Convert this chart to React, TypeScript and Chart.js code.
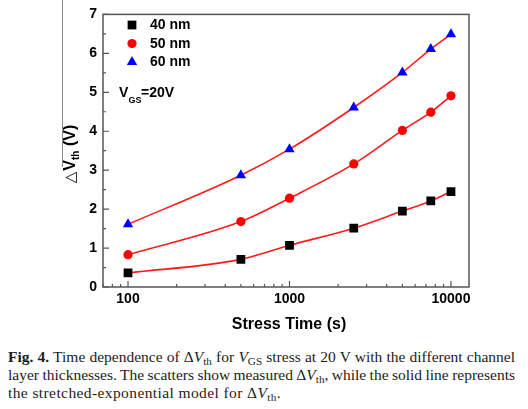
import React, { useEffect, useRef } from "react";
import { Chart, registerables } from "chart.js";

Chart.register(...registerables);

// Stress times (s) and measured threshold-voltage shifts (V) per channel thickness
const stressTimes = [100, 500, 1000, 2500, 5000, 7500, 10000];
const dv40 = [0.36, 0.71, 1.07, 1.51, 1.95, 2.21, 2.45];
const dv50 = [0.83, 1.68, 2.28, 3.16, 4.02, 4.49, 4.91];
const dv60 = [1.61, 2.87, 3.54, 4.61, 5.51, 6.11, 6.49];
const seriesLabels = ["40 nm", "50 nm", "60 nm"];
const xTickValues = [100, 1000, 10000];
const yTickValues = [0, 1, 2, 3, 4, 5, 6, 7];

const SANS = '"Liberation Sans", Arial, sans-serif';

const toPoints = (ys: number[]) => stressTimes.map((t, i) => ({ x: t, y: ys[i] }));

function drawMarker(ctx: CanvasRenderingContext2D, style: string, x: number, y: number, r: number, color: string) {
  ctx.fillStyle = color;
  ctx.beginPath();
  if (style === "rect") {
    const s = Math.SQRT1_2 * r;
    ctx.rect(x - s, y - s, 2 * s, 2 * s);
  } else if (style === "circle") {
    ctx.arc(x, y, r, 0, Math.PI * 2);
  } else {
    ctx.moveTo(x, y - r);
    ctx.lineTo(x + r * Math.sin(Math.PI / 3 * 2), y + r / 2);
    ctx.lineTo(x - r * Math.sin(Math.PI / 3 * 2), y + r / 2);
    ctx.closePath();
  }
  ctx.fill();
}

const decorPlugin = {
  id: "decor",
  beforeDatasetsDraw(chart: any) {
    const { ctx, chartArea: a, scales } = chart;
    const xs = scales.x;
    const ys = scales.y;
    ctx.save();
    ctx.strokeStyle = "#555";
    ctx.lineWidth = 1.5;
    ctx.strokeRect(a.left, a.top, a.right - a.left, a.bottom - a.top);
    ctx.lineWidth = 1.2;
    ctx.beginPath();
    // inward ticks on the value axis (major every 1 V, minor every 0.5 V)
    for (let v = 0; v <= 7; v += 0.5) {
      const py = ys.getPixelForValue(v);
      const len = v % 1 === 0 ? 6 : 3;
      ctx.moveTo(a.left, py);
      ctx.lineTo(a.left + len, py);
    }
    // inward ticks on the log time axis
    for (const decade of [10, 100, 1000, 10000]) {
      for (let m = 1; m <= 9; m++) {
        const v = m * decade;
        if (v < xs.min || v > 10000) continue;
        const px = xs.getPixelForValue(v);
        const len = m === 1 ? 6 : 3;
        ctx.moveTo(px, a.bottom);
        ctx.lineTo(px, a.bottom - len);
      }
    }
    ctx.stroke();
    ctx.restore();
  },
  afterDraw(chart: any) {
    const { ctx } = chart;
    ctx.save();

    // thin rule on the left edge of the figure
    ctx.strokeStyle = "#8a8a8a";
    ctx.lineWidth = 1;
    ctx.beginPath();
    ctx.moveTo(62.5, 0);
    ctx.lineTo(62.5, 167);
    ctx.stroke();

    // legend inside the plot
    const metas = chart.data.datasets;
    const rowY = [25, 43.5, 62];
    ctx.textBaseline = "middle";
    ctx.textAlign = "left";
    ctx.font = `bold 14px ${SANS}`;
    metas.forEach((ds: any, i: number) => {
      drawMarker(ctx, ds.pointStyle, 132, rowY[i], ds.pointRadius, ds.pointBackgroundColor);
      ctx.fillStyle = "#000";
      ctx.fillText(ds.label, 150, rowY[i] + 0.5);
    });

    // bias annotation
    ctx.textBaseline = "alphabetic";
    ctx.font = `bold 14px ${SANS}`;
    ctx.fillText("V", 119, 97);
    ctx.font = `bold 9px ${SANS}`;
    ctx.fillText("GS", 128.5, 103);
    ctx.font = `bold 14px ${SANS}`;
    ctx.fillText("=20V", 141, 97);

    // x-axis title
    ctx.textAlign = "center";
    ctx.textBaseline = "middle";
    ctx.font = `bold 16px ${SANS}`;
    ctx.fillText("Stress Time (s)", 289, 325);

    // y-axis title, rotated, with subscript
    const parts = [
      { t: "\u25B3", f: `15px "DejaVu Sans", sans-serif`, dy: 0 },
      { t: "V", f: `bold 16px ${SANS}`, dy: 0 },
      { t: "th", f: `bold 10px ${SANS}`, dy: 4 },
      { t: " (V)", f: `bold 16px ${SANS}`, dy: 0 },
    ];
    ctx.translate(75, 154.5);
    ctx.rotate(-Math.PI / 2);
    ctx.textAlign = "left";
    ctx.textBaseline = "alphabetic";
    let total = 0;
    const widths = parts.map((p) => {
      ctx.font = p.f;
      const w = ctx.measureText(p.t).width;
      total += w;
      return w;
    });
    let cx = -total / 2;
    parts.forEach((p, i) => {
      ctx.font = p.f;
      ctx.fillText(p.t, cx, p.dy);
      cx += widths[i] + (i === 0 ? 1 : 0);
    });
    ctx.restore();
  },
};

function ChartCanvas() {
  const ref = useRef<HTMLCanvasElement | null>(null);

  useEffect(() => {
    if (!ref.current) return;
    const mk = (label: string, ys: number[], style: string, radius: number, color: string) => ({
      label,
      data: toPoints(ys),
      showLine: true,
      borderColor: "#ff1a1a",
      borderWidth: 1.6,
      cubicInterpolationMode: "monotone" as const,
      pointStyle: style,
      pointRadius: radius,
      pointHoverRadius: radius,
      pointBackgroundColor: color,
      pointBorderColor: color,
      pointBorderWidth: 0,
    });
    const chart = new Chart(ref.current, {
      type: "line",
      data: {
        datasets: [
          mk(seriesLabels[0], dv40, "rect", 6.2, "#000000"),
          mk(seriesLabels[1], dv50, "circle", 4.6, "#ff0000"),
          mk(seriesLabels[2], dv60, "triangle", 6, "#0000ff"),
        ],
      },
      options: {
        responsive: false,
        animation: false,
        devicePixelRatio: 1,
        layout: { padding: { top: 10, right: 59, left: 0, bottom: 0 } },
        plugins: { legend: { display: false }, tooltip: { enabled: false } },
        scales: {
          x: {
            type: "logarithmic",
            min: 70,
            max: 12930,
            grid: { display: false, drawTicks: false },
            border: { display: false },
            afterBuildTicks: (scale: any) => {
              scale.ticks = xTickValues.map((v) => ({ value: v }));
            },
            afterFit: (scale: any) => {
              scale.height = 53;
            },
            ticks: {
              autoSkip: false,
              maxRotation: 0,
              padding: 4,
              color: "#000",
              font: { family: SANS, size: 14, weight: "bold" },
              callback: (v: any) => String(v),
            },
          },
          y: {
            type: "linear",
            min: 0,
            max: 7,
            grid: { display: false, drawTicks: false },
            border: { display: false },
            afterBuildTicks: (scale: any) => {
              scale.ticks = yTickValues.map((v) => ({ value: v }));
            },
            afterFit: (scale: any) => {
              scale.width = 103;
            },
            ticks: {
              padding: 6,
              color: "#000",
              font: { family: SANS, size: 14, weight: "bold" },
              callback: (v: any) => String(v),
            },
          },
        },
      },
      plugins: [decorPlugin],
    } as any);
    return () => chart.destroy();
  }, []);

  return <canvas ref={ref} width={528} height={340} style={{ position: "absolute", left: 0, top: 0 }} />;
}

const subStyle: React.CSSProperties = { fontSize: "0.72em", verticalAlign: "-0.3em", lineHeight: 0, fontStyle: "normal" };
const justified: React.CSSProperties = {
  textAlign: "justify",
  textAlignLast: "justify",
  whiteSpace: "nowrap",
  wordSpacing: "-0.6px",
};

export default function App() {
  return (
    <div style={{ position: "fixed", left: 0, top: 0, width: 528, height: 409, background: "#fff", overflow: "hidden" }}>
      <ChartCanvas />
      <div
        style={{
          position: "absolute",
          left: 8,
          top: 348,
          width: 507,
          font: '15.5px "Liberation Serif", "Times New Roman", serif',
          lineHeight: "18px",
          color: "#1c1c1c",
        }}
      >
        <div style={justified}>
          <b>Fig. 4.</b> Time dependence of Δ<i>V</i>
          <sub style={subStyle}>th</sub> for <i>V</i>
          <sub style={subStyle}>GS</sub> stress at 20 V with the different channel
        </div>
        <div style={justified}>
          layer thicknesses. The scatters show measured Δ<i>V</i>
          <sub style={subStyle}>th</sub>, while the solid line represents
        </div>
        <div style={{ letterSpacing: "0.4px", whiteSpace: "nowrap" }}>
          the stretched-exponential model for Δ<i>V</i>
          <sub style={subStyle}>th</sub>.
        </div>
      </div>
    </div>
  );
}
